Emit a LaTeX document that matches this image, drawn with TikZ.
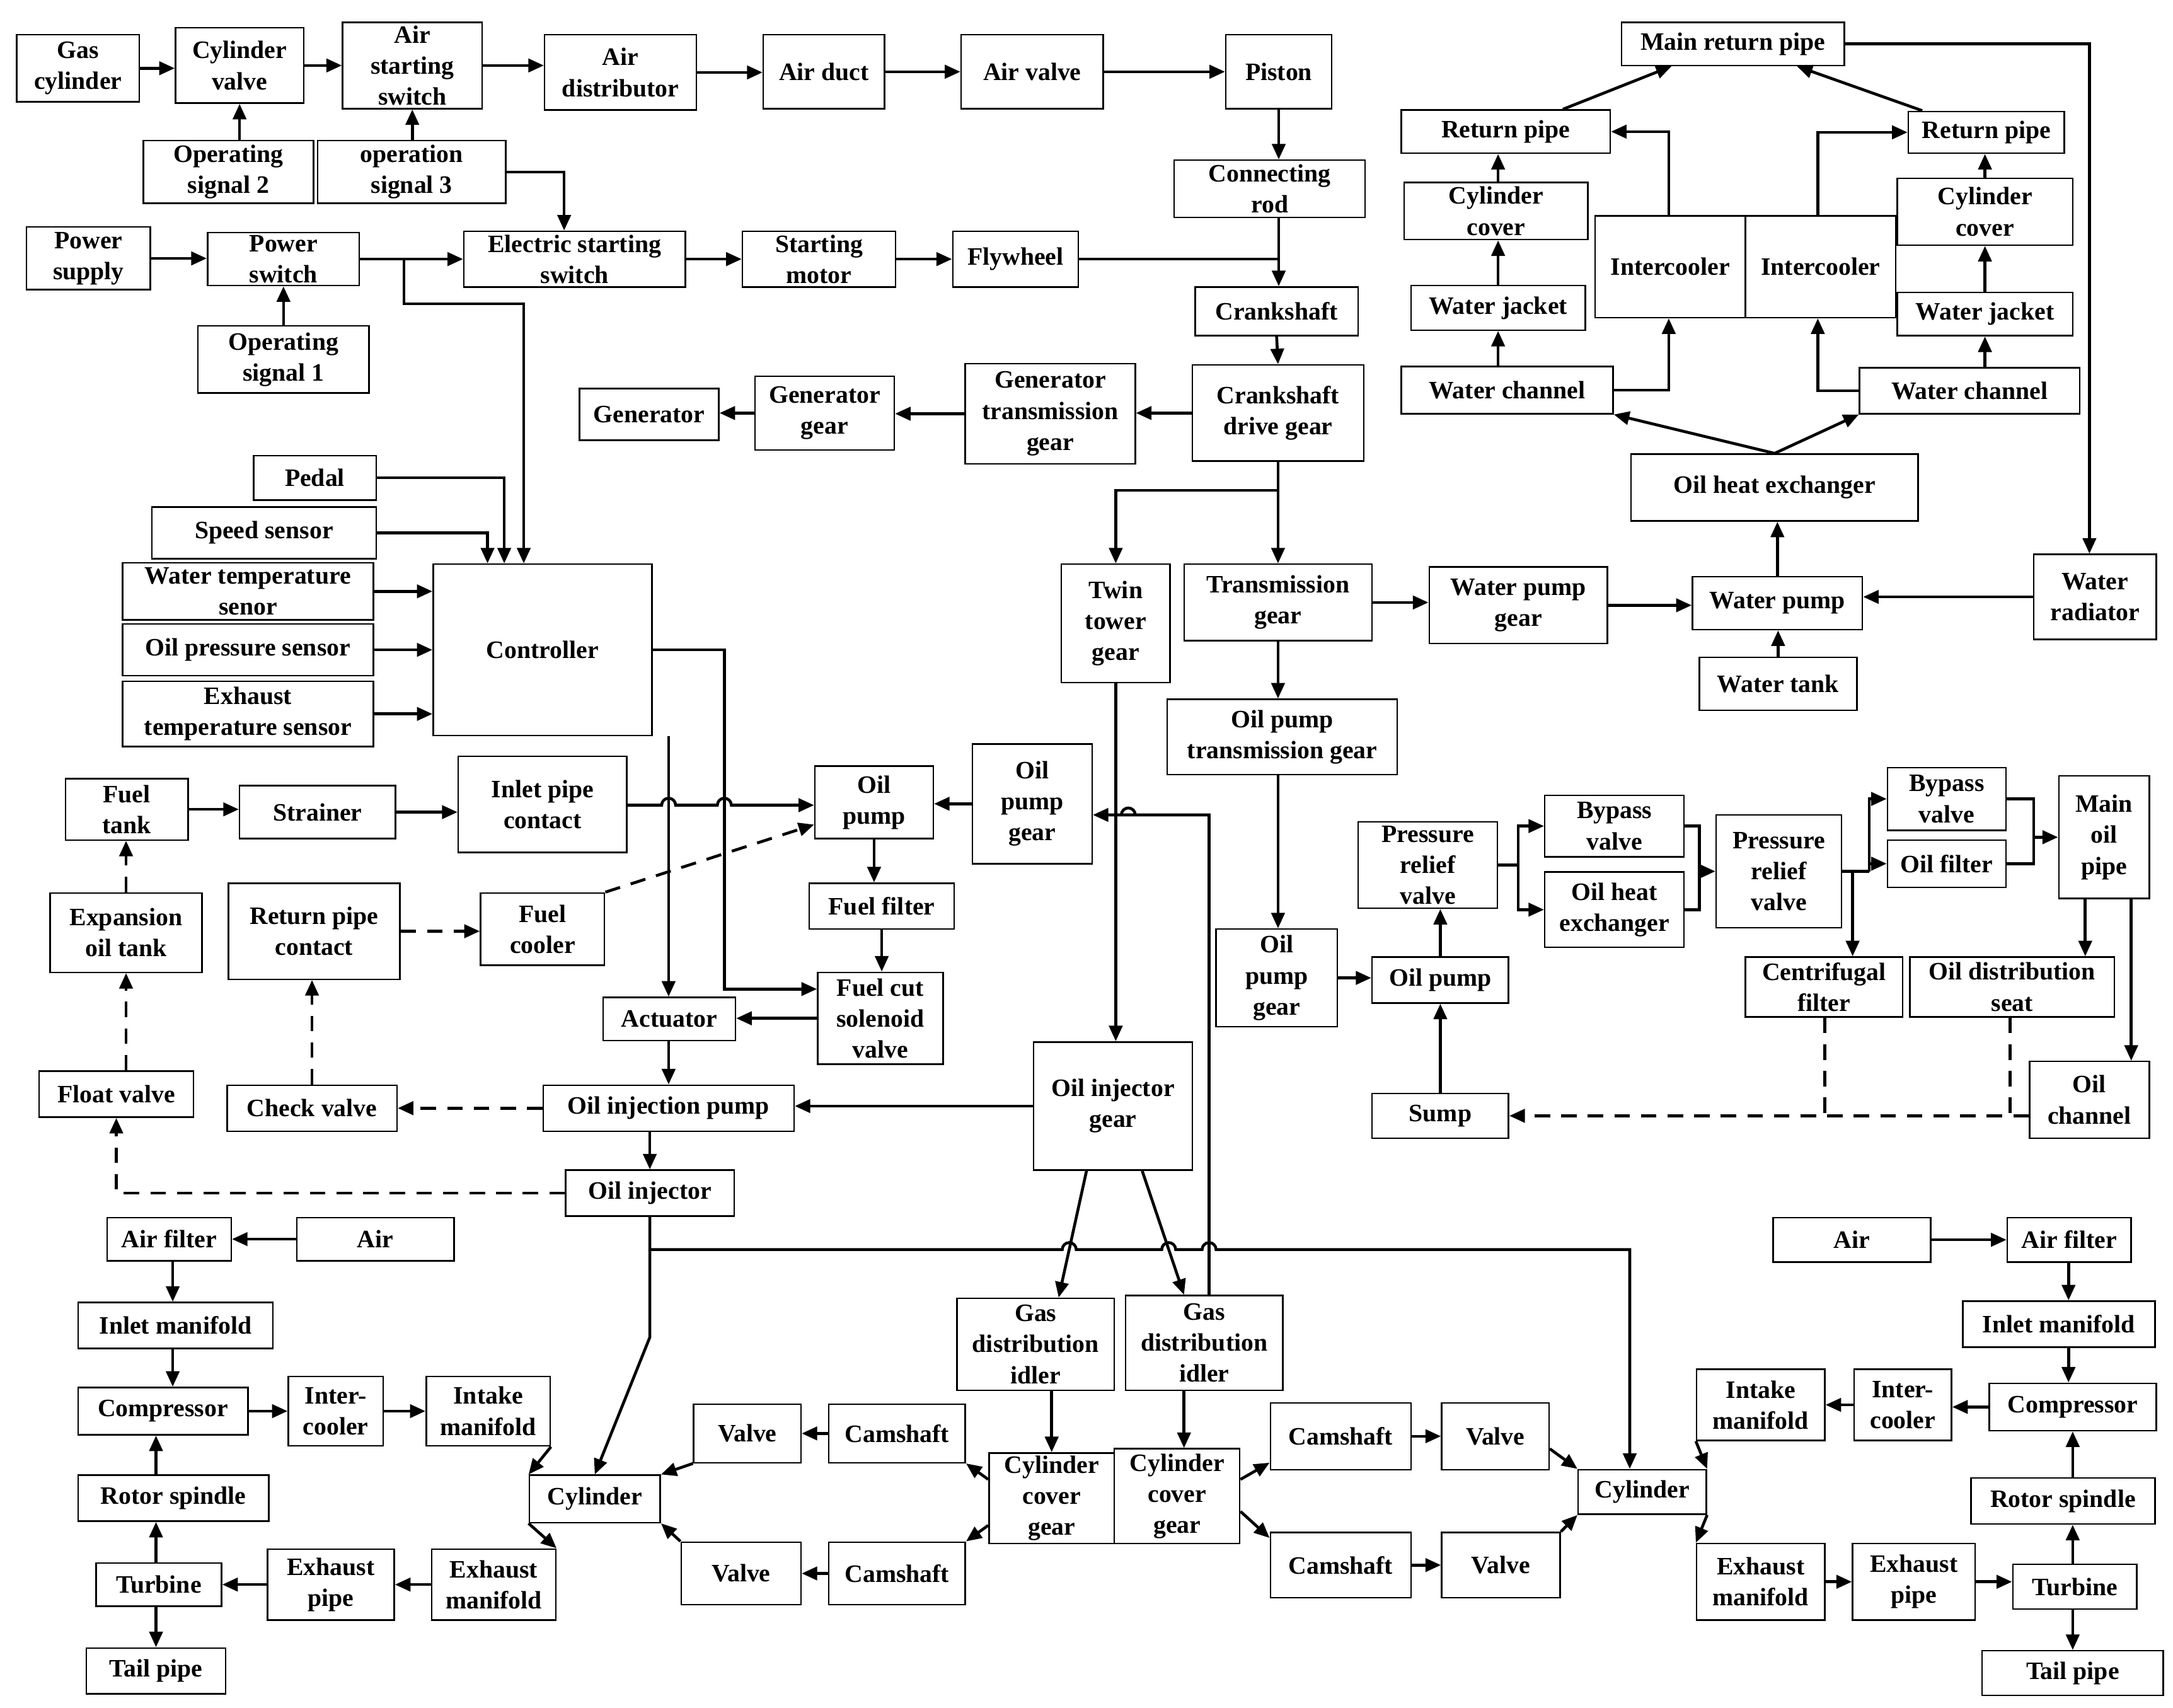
\documentclass[tikz,border=0pt]{standalone}
\usepackage{fontspec}
\setmainfont{Liberation Serif}
\usetikzlibrary{arrows.meta,calc}
\newlength{\px}
\setlength{\px}{0.0221cm}
\tikzset{
  box/.style={draw, line width=0.7pt, align=center, inner sep=0.5pt,
              font=\fontsize{11.3}{14}\selectfont\bfseries},
  ar/.style={draw, line width=1.3pt, -{Triangle[length=7pt,width=6pt]}},
  ln/.style={draw, line width=1.3pt},
  dar/.style={ar, dash pattern=on 7pt off 5pt},
  dln/.style={ln, dash pattern=on 7pt off 5pt}
}
% box from corners: name, x1, y1, x2, y2, text
\newcommand\bx[6]{\node[box, minimum width={(#4-#2)*\px}, minimum height={(#5-#3)*\px}]
  (#1) at ({(#2+#4)/2},{(#3+#5)/2}) {#6};}
\newcommand\hop{arc[start angle=180, end angle=0, radius=5\px]}
\begin{document}
\begin{tikzpicture}[x=0.0221cm, y=-0.0221cm]
  \useasboundingbox (0,0) rectangle (1560,1226);
  % starting system
  \bx{gascyl}{12}{25}{100}{73}{Gas\\cylinder}
  \bx{cylvalve}{126}{20}{218}{74}{Cylinder\\valve}
  \bx{airstart}{246}{16}{346}{78}{Air\\starting\\switch}
  \bx{airdist}{391}{25}{500}{79}{Air\\distributor}
  \bx{airduct}{548}{25}{635}{78}{Air duct}
  \bx{airvalve}{690}{25}{792}{78}{Air valve}
  \bx{piston}{880}{25}{956}{78}{Piston}
  \bx{opsig2}{103}{101}{225}{146}{Operating\\signal 2}
  \bx{opsig3}{228}{101}{363}{146}{operation\\signal 3}
  \bx{connrod}{843}{115}{980}{156}{Connecting\\rod}
  \bx{powsup}{19}{163}{108}{208}{Power\\supply}
  \bx{powsw}{149}{167}{258}{205}{Power\\switch}
  \bx{elecsw}{333}{166}{492}{206}{Electric starting\\switch}
  \bx{startmotor}{533}{166}{643}{206}{Starting\\motor}
  \bx{flywheel}{684}{166}{774}{206}{Flywheel}
  \bx{opsig1}{142}{234}{265}{282}{Operating\\signal 1}
  \bx{crankshaft}{858}{206}{975}{241}{Crankshaft}
  \bx{crankdrive}{856}{262}{979}{331}{Crankshaft\\drive gear}
  \bx{gentrans}{693}{261}{815}{333}{Generator\\transmission\\gear}
  \bx{gengear}{542}{270}{642}{323}{Generator\\gear}
  \bx{generator}{416}{279}{516}{316}{Generator}
  % control
  \bx{pedal}{182}{327}{270}{359}{Pedal}
  \bx{speed}{109}{364}{270}{401}{Speed sensor}
  \bx{watertemp}{88}{404}{268}{445}{Water temperature\\senor}
  \bx{oilpress}{88}{448}{268}{485}{Oil pressure sensor}
  \bx{exhaust}{88}{489}{268}{536}{Exhaust\\temperature sensor}
  \bx{controller}{311}{405}{468}{528}{Controller}
  \bx{twin}{762}{405}{840}{490}{Twin\\tower\\gear}
  \bx{transgear}{850}{405}{985}{460}{Transmission\\gear}
  \bx{wpgear}{1026}{407}{1154}{462}{Water pump\\gear}
  \bx{wpump}{1215}{414}{1337}{452}{Water pump}
  \bx{wradiator}{1460}{398}{1548}{459}{Water\\radiator}
  \bx{wtank}{1220}{472}{1333}{510}{Water tank}
  \bx{oilpumptrans}{838}{502}{1003}{556}{Oil pump\\transmission gear}
  % cooling
  \bx{oilheatx}{1171}{326}{1377}{374}{Oil heat exchanger}
  \bx{mainret}{1164}{16}{1324}{47}{Main return pipe}
  \bx{retpipeL}{1006}{79}{1156}{110}{Return pipe}
  \bx{retpipeR}{1370}{80}{1482}{110}{Return pipe}
  \bx{cylcovL}{1008}{131}{1140}{172}{Cylinder\\cover}
  \bx{cylcovR}{1362}{128}{1488}{176}{Cylinder\\cover}
  \bx{interL}{1145}{155}{1253}{228}{Intercooler}
  \bx{interR}{1253}{155}{1361}{228}{Intercooler}
  \bx{wjackL}{1013}{205}{1138}{237}{Water jacket}
  \bx{wjackR}{1362}{210}{1488}{241}{Water jacket}
  \bx{wchanL}{1006}{263}{1158}{297}{Water channel}
  \bx{wchanR}{1335}{264}{1493}{297}{Water channel}
  % fuel
  \bx{fueltank}{47}{559}{135}{603}{Fuel\\tank}
  \bx{strainer}{172}{564}{284}{602}{Strainer}
  \bx{inletpipe}{329}{543}{450}{612}{Inlet pipe\\contact}
  \bx{oilpumpF}{585}{550}{670}{602}{Oil\\pump}
  \bx{oilpumpgear}{698}{534}{784}{620}{Oil\\pump\\gear}
  \bx{expansion}{36}{641}{145}{698}{Expansion\\oil tank}
  \bx{retcontact}{164}{634}{287}{703}{Return pipe\\contact}
  \bx{fuelcooler}{345}{641}{434}{693}{Fuel\\cooler}
  \bx{fuelfilter}{581}{634}{685}{667}{Fuel filter}
  \bx{actuator}{433}{716}{528}{747}{Actuator}
  \bx{fuelcut}{587}{698}{677}{764}{Fuel cut\\solenoid\\valve}
  \bx{floatv}{28}{769}{139}{802}{Float valve}
  \bx{checkv}{163}{779}{285}{812}{Check valve}
  \bx{injpump}{390}{779}{570}{812}{Oil injection pump}
  \bx{injgear}{742}{748}{856}{840}{Oil injector\\gear}
  \bx{injector}{406}{840}{527}{873}{Oil injector}
  % lubrication
  \bx{prelief1}{975}{590}{1075}{652}{Pressure\\relief\\valve}
  \bx{bypass}{1109}{571}{1209}{615}{Bypass\\valve}
  \bx{oilheatx2}{1109}{626}{1209}{680}{Oil heat\\exchanger}
  \bx{prelief2}{1232}{585}{1322}{666}{Pressure\\relief\\valve}
  \bx{bypass2}{1355}{551}{1440}{596}{Bypass\\valve}
  \bx{oilfilter}{1355}{603}{1440}{637}{Oil filter}
  \bx{mainoil}{1478}{557}{1543}{645}{Main\\oil\\pipe}
  \bx{centrifugal}{1253}{687}{1366}{730}{Centrifugal\\filter}
  \bx{oildist}{1371}{687}{1518}{730}{Oil distribution\\seat}
  \bx{oilchannel}{1457}{762}{1543}{817}{Oil\\channel}
  \bx{oilpumpgear2}{873}{667}{960}{737}{Oil\\pump\\gear}
  \bx{oilpump2}{985}{687}{1083}{720}{Oil pump}
  \bx{sump}{985}{785}{1083}{817}{Sump}
  % intake / exhaust, left
  \bx{airfilterL}{77}{874}{166}{905}{Air filter}
  \bx{airL}{213}{874}{326}{905}{Air}
  \bx{inletmanL}{56}{935}{196}{968}{Inlet manifold}
  \bx{compL}{56}{996}{178}{1030}{Compressor}
  \bx{intercL}{207}{988}{275}{1038}{Inter-\\cooler}
  \bx{intakeL}{306}{988}{395}{1038}{Intake\\manifold}
  \bx{rotorL}{56}{1059}{193}{1092}{Rotor spindle}
  \bx{turbineL}{69}{1122}{159}{1153}{Turbine}
  \bx{exhpipeL}{192}{1112}{283}{1163}{Exhaust\\pipe}
  \bx{exhmanL}{310}{1112}{399}{1163}{Exhaust\\manifold}
  \bx{tailL}{62}{1183}{162}{1216}{Tail pipe}
  \bx{cylL}{380}{1059}{474}{1093}{Cylinder}
  \bx{valveL1}{498}{1008}{575}{1050}{Valve}
  \bx{camL1}{595}{1008}{693}{1050}{Camshaft}
  \bx{valveL2}{489}{1107}{575}{1152}{Valve}
  \bx{camL2}{595}{1107}{693}{1152}{Camshaft}
  % valve train
  \bx{gasidleL}{687}{932}{800}{998}{Gas\\distribution\\idler}
  \bx{gasidleR}{808}{930}{921}{998}{Gas\\distribution\\idler}
  \bx{ccgL}{710}{1043}{800}{1108}{Cylinder\\cover\\gear}
  \bx{ccgR}{800}{1040}{890}{1108}{Cylinder\\cover\\gear}
  \bx{camR1}{912}{1007}{1013}{1055}{Camshaft}
  \bx{valveR1}{1035}{1007}{1112}{1055}{Valve}
  \bx{camR2}{912}{1100}{1013}{1147}{Camshaft}
  \bx{valveR2}{1035}{1100}{1120}{1147}{Valve}
  \bx{cylR}{1133}{1055}{1225}{1087}{Cylinder}
  % intake / exhaust, right
  \bx{airR}{1273}{874}{1386}{906}{Air}
  \bx{airfilterR}{1441}{874}{1530}{906}{Air filter}
  \bx{inletmanR}{1409}{934}{1547}{967}{Inlet manifold}
  \bx{compR}{1428}{993}{1548}{1027}{Compressor}
  \bx{intercR}{1331}{983}{1401}{1034}{Inter-\\cooler}
  \bx{intakeR}{1218}{983}{1310}{1034}{Intake\\manifold}
  \bx{rotorR}{1415}{1061}{1547}{1094}{Rotor spindle}
  \bx{turbineR}{1445}{1123}{1534}{1155}{Turbine}
  \bx{exhpipeR}{1330}{1108}{1418}{1163}{Exhaust\\pipe}
  \bx{exhmanR}{1218}{1108}{1310}{1163}{Exhaust\\manifold}
  \bx{tailR}{1423}{1185}{1553}{1217}{Tail pipe}

  % starting paths
  \draw[ar] (gascyl.east) -- (cylvalve.west |- gascyl.east);
  \draw[ar] (cylvalve.east) -- (airstart.west |- cylvalve.east);
  \draw[ar] (airstart.east) -- (airdist.west |- airstart.east);
  \draw[ar] (airdist.east) -- (airduct.west |- airdist.east);
  \draw[ar] (airduct.east) -- (airvalve.west |- airduct.east);
  \draw[ar] (airvalve.east) -- (piston.west |- airvalve.east);
  \draw[ar] (opsig2.north -| cylvalve.south) -- (cylvalve.south);
  \draw[ar] (opsig3.north -| airstart.south) -- (airstart.south);
  \draw[ar] (opsig3.east) -| (elecsw.north -| 405,0);
  \draw[ar] (piston.south) -- (connrod.north -| piston.south);
  \draw[ar] (connrod.south -| piston.south) -- (crankshaft.north -| piston.south);
  \draw[ln] (flywheel.east) -- (flywheel.east -| piston.south);
  \draw[ar] (powsup.east) -- (powsw.west |- powsup.east);
  \draw[ar] (powsw.east) -- (elecsw.west |- powsw.east);
  \draw[ar] (elecsw.east) -- (startmotor.west |- elecsw.east);
  \draw[ar] (startmotor.east) -- (flywheel.west |- startmotor.east);
  \draw[ar] (opsig1.north) -- (powsw.south -| opsig1.north);
  \draw[ar] (powsw.east -| 290,0) -- (290,218) -| (controller.north -| 376,0);
  \draw[ar] (pedal.east) -| (controller.north -| 362,0);
  \draw[ar] (speed.east) -| (controller.north -| 350,0);
  \draw[ar] (watertemp.east) -- (controller.west |- watertemp.east);
  \draw[ar] (oilpress.east) -- (controller.west |- oilpress.east);
  \draw[ar] (exhaust.east) -- (controller.west |- exhaust.east);

  % gear train
  \draw[ar] (crankshaft.south) -- (crankdrive.north);
  \draw[ar] (crankdrive.west) -- (gentrans.east |- crankdrive.west);
  \draw[ar] (gentrans.west) -- (gengear.east |- gentrans.west);
  \draw[ar] (gengear.west) -- (generator.east |- gengear.west);
  \draw[ar] (crankdrive.south) -- (crankdrive.south |- 0,352) -| (twin.north);
  \draw[ar] (crankdrive.south |- 0,352) -- (transgear.north -| crankdrive.south);
  \draw[ar] (transgear.east) -- (wpgear.west |- transgear.east);
  \draw[ar] (wpgear.east) -- (wpump.west |- wpgear.east);
  \draw[ar] (wradiator.west) -- (wpump.east |- wradiator.west);
  \draw[ar] (wtank.north) -- (wpump.south -| wtank.north);
  \draw[ar] (wpump.north) -- (oilheatx.south -| wpump.north);
  \draw[ar] (transgear.south) -- (oilpumptrans.north -| transgear.south);
  \draw[ar] (oilpumptrans.south -| transgear.south) -- (oilpumpgear2.north -| transgear.south);

  % cooling paths
  \draw[ar] (oilheatx.north) -- (wchanL.south east);
  \draw[ar] (oilheatx.north) -- (wchanR.south west);
  \draw[ar] (wchanL.north -| wjackL.south) -- (wjackL.south);
  \draw[ar] (wjackL.north) -- (cylcovL.south -| wjackL.north);
  \draw[ar] (cylcovL.north -| wjackL.north) -- (retpipeL.south -| wjackL.north);
  \draw[ar] (retpipeL.north -| 1122,0) -- (mainret.south -| 1200,0);
  \draw[ar] (wchanL.east) -| (interL.south -| 1198,0);
  \draw[ar] (interL.north -| 1198,0) |- (retpipeL.east);
  \draw[ar] (wchanR.west) -| (interR.south -| 1305,0);
  \draw[ar] (interR.north -| 1305,0) |- (retpipeR.west);
  \draw[ar] (wchanR.north -| wjackR.south) -- (wjackR.south);
  \draw[ar] (wjackR.north) -- (cylcovR.south -| wjackR.north);
  \draw[ar] (cylcovR.north -| wjackR.north) -- (retpipeR.south -| wjackR.north);
  \draw[ar] (retpipeR.north -| 1380,0) -- (mainret.south -| 1290,0);
  \draw[ar] (mainret.east) -| (wradiator.north -| 1500,0);

  % lubrication paths
  \draw[ar] (oilpumpgear2.east) -- (oilpump2.west |- oilpumpgear2.east);
  \draw[ar] (sump.north) -- (oilpump2.south);
  \draw[ar] (oilpump2.north) -- (prelief1.south -| oilpump2.north);
  \draw[ln] (prelief1.east) -- (prelief1.east -| 1090,0);
  \draw[ar] (prelief1.east -| 1090,0) |- (bypass.west);
  \draw[ar] (prelief1.east -| 1090,0) |- (oilheatx2.west);
  \draw[ln] (bypass.east) -| (prelief2.west -| 1220,0);
  \draw[ln] (oilheatx2.east) -| (prelief2.west -| 1220,0);
  \draw[ar] (prelief2.west -| 1220,0) -- (prelief2.west);
  \draw[ln] (prelief2.east) -- (prelief2.east -| 1342,0);
  \draw[ar] (prelief2.east -| 1342,0) |- (bypass2.west);
  \draw[ar] (prelief2.east -| 1342,0) |- (oilfilter.west);
  \draw[ar] (prelief2.east -| 1330,0) -- (centrifugal.north -| 1330,0);
  \draw[ln] (bypass2.east) -| (mainoil.west -| 1460,0);
  \draw[ln] (oilfilter.east) -| (mainoil.west -| 1460,0);
  \draw[ar] (mainoil.west -| 1460,0) -- (mainoil.west);
  \draw[ar] (mainoil.south -| 1497,0) -- (oildist.north -| 1497,0);
  \draw[ar] (mainoil.south -| 1530,0) -- (oilchannel.north -| 1530,0);
  \draw[dln] (centrifugal.south -| 1310,0) -- (1310,0 |- sump.east);
  \draw[dln] (oildist.south -| 1443,0) -- (1443,0 |- sump.east);
  \draw[dar] (oilchannel.west |- sump.east) -- (sump.east);

  % fuel paths
  \draw[ar] (fueltank.east) -- (strainer.west |- fueltank.east);
  \draw[ar] (strainer.east) -- (inletpipe.west |- strainer.east);
  \draw[ar] (inletpipe.east |- 0,578) -- (475,578) \hop -- (515,578) \hop -- (oilpumpF.west |- 0,578);
  \draw[ar] (oilpumpgear.west) -- (oilpumpF.east |- oilpumpgear.west);
  \draw[ar] (oilpumpF.south) -- (fuelfilter.north -| oilpumpF.south);
  \draw[ar] (fuelfilter.south) -- (fuelcut.north -| fuelfilter.south);
  \draw[ar] (fuelcut.west) -- (actuator.east |- fuelcut.west);
  \draw[ar] (controller.east) -| (520,710) -- (fuelcut.west |- 0,710);
  \draw[ar] (controller.south -| 480,0) -- (actuator.north -| 480,0);
  \draw[ar] (actuator.south -| 480,0) -- (injpump.north -| 480,0);
  \draw[ar] (twin.south) -- (injgear.north -| twin.south);
  \draw[ar] (gasidleR.north -| 868,0) -- (868,585) -- (805,585) \hop -- (oilpumpgear.east |- 0,585);
  \draw[ar] (injgear.west) -- (injpump.east |- injgear.west);
  \draw[ar] (injpump.south -| injector.north) -- (injector.north);
  \draw[dar] (injpump.west) -- (checkv.east |- injpump.west);
  \draw[dar] (checkv.north) -- (retcontact.south -| checkv.north);
  \draw[dar] (retcontact.east) -- (fuelcooler.west |- retcontact.east);
  \draw[dar] (fuelcooler.north east) -- ($(oilpumpF.west)!0.6!(oilpumpF.south west)$);
  \draw[dar] (injector.west) -| (floatv.south);
  \draw[dar] (floatv.north -| expansion.south) -- (expansion.south);
  \draw[dar] (expansion.north) -- (fueltank.south -| expansion.north);

  % injection to cylinders
  \draw[ar] (injector.south) -- (injector.south |- 0,897) -- (762.6,897) \hop
    -- (834,897) \hop -- (863,897) \hop -- (1170,897) -- (cylR.north -| 1170,0);
  \draw[ar] (injector.south |- 0,897) -- (injector.south |- 0,960) -- (cylL.north);
  \draw[ar] (injgear.south -| 780,0) -- (gasidleL.north -| 760,0);
  \draw[ar] (injgear.south -| 820,0) -- (gasidleR.north -| 850,0);
  \draw[ar] (gasidleL.south -| ccgL.north) -- (ccgL.north);
  \draw[ar] (gasidleR.south -| 850,0) -- (ccgR.north -| 850,0);

  % valve train paths
  \draw[ar] (ccgL.west |- 0,1062) -- (camL1.south east);
  \draw[ar] (ccgL.west |- 0,1095) -- (camL2.north east);
  \draw[ar] (ccgR.east |- 0,1062) -- (camR1.west |- 0,1050);
  \draw[ar] (ccgR.east |- 0,1085) -- (camR2.west |- 0,1104);
  \draw[ar] (camL1.west) -- (valveL1.east |- camL1.west);
  \draw[ar] (camL2.west) -- (valveL2.east |- camL2.west);
  \draw[ar] (camR1.east) -- (valveR1.west |- camR1.east);
  \draw[ar] (camR2.east) -- (valveR2.west |- camR2.east);
  \draw[ar] (valveL1.south west) -- (cylL.north east);
  \draw[ar] (valveL2.north west) -- (cylL.south east);
  \draw[ar] (valveR1.east |- 0,1040) -- (cylR.north west);
  \draw[ar] (valveR2.north east) -- (cylR.south west);

  % left turbo
  \draw[ar] (airL.west) -- (airfilterL.east |- airL.west);
  \draw[ar] (airfilterL.south -| 124,0) -- (inletmanL.north -| 124,0);
  \draw[ar] (inletmanL.south -| 124,0) -- (compL.north -| 124,0);
  \draw[ar] (compL.east) -- (intercL.west |- compL.east);
  \draw[ar] (intercL.east) -- (intakeL.west |- intercL.east);
  \draw[ar] (intakeL.south east) -- (cylL.north west);
  \draw[ar] (cylL.south west) -- (exhmanL.north east);
  \draw[ar] (exhmanL.west) -- (exhpipeL.east |- exhmanL.west);
  \draw[ar] (exhpipeL.west) -- (turbineL.east |- exhpipeL.west);
  \draw[ar] (turbineL.north -| 112,0) -- (rotorL.south -| 112,0);
  \draw[ar] (rotorL.north -| 112,0) -- (compL.south -| 112,0);
  \draw[ar] (turbineL.south -| 112,0) -- (tailL.north -| 112,0);

  % right turbo
  \draw[ar] (airR.east) -- (airfilterR.west |- airR.east);
  \draw[ar] (airfilterR.south -| 1485,0) -- (inletmanR.north -| 1485,0);
  \draw[ar] (inletmanR.south -| 1485,0) -- (compR.north -| 1485,0);
  \draw[ar] (compR.west) -- (intercR.east |- compR.west);
  \draw[ar] (intercR.west) -- (intakeR.east |- intercR.west);
  \draw[ar] (intakeR.south west) -- (cylR.north east);
  \draw[ar] (cylR.south east) -- (exhmanR.north west);
  \draw[ar] (exhmanR.east) -- (exhpipeR.west |- exhmanR.east);
  \draw[ar] (exhpipeR.east) -- (turbineR.west |- exhpipeR.east);
  \draw[ar] (turbineR.north -| 1488,0) -- (rotorR.south -| 1488,0);
  \draw[ar] (rotorR.north -| 1488,0) -- (compR.south -| 1488,0);
  \draw[ar] (turbineR.south -| 1488,0) -- (tailR.north -| 1488,0);
\end{tikzpicture}
\end{document}
